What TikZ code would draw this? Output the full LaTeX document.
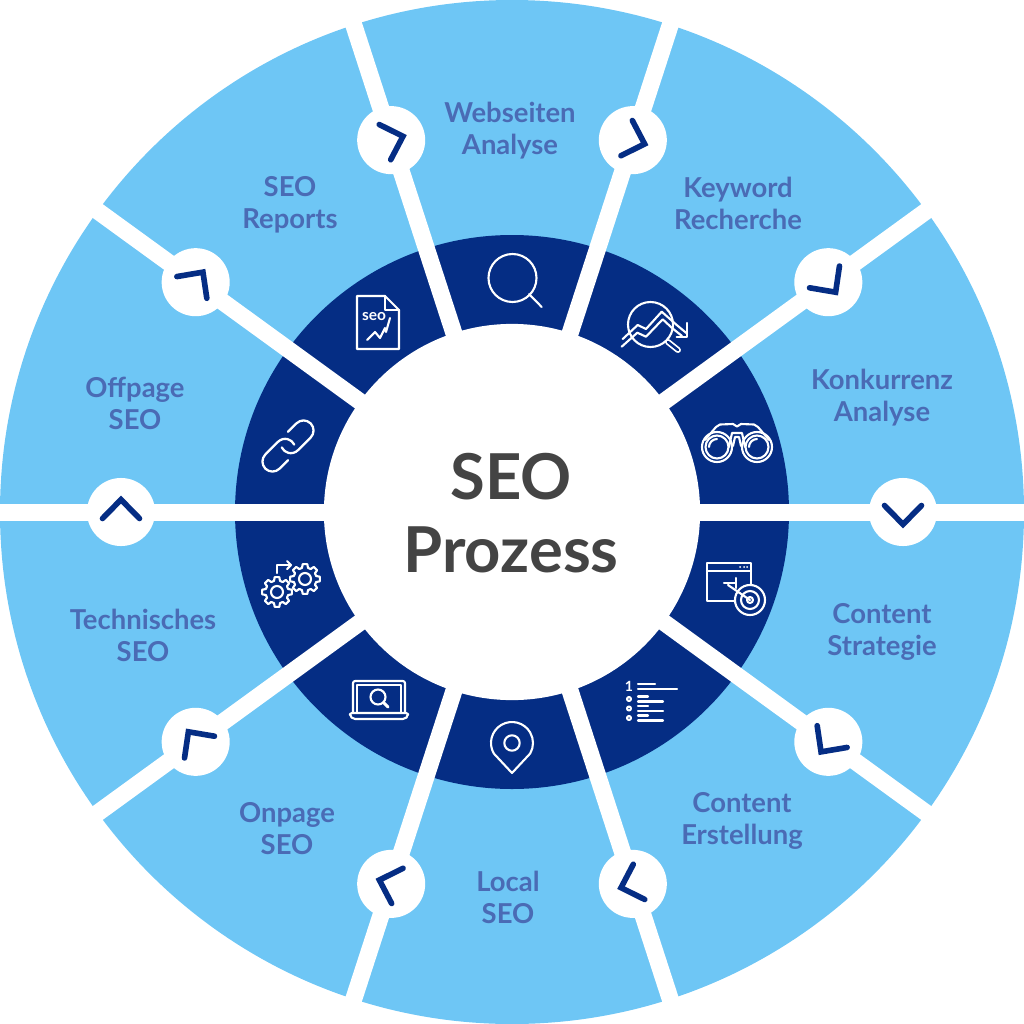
\documentclass[tikz,border=0pt]{standalone}
\usepackage{fontspec}
\setmainfont{Lato}
\usetikzlibrary{calc}
\definecolor{seolight}{HTML}{6EC6F5}
\definecolor{seodark}{HTML}{052D84}
\definecolor{seotext}{HTML}{4A6BB5}
\definecolor{seohub}{HTML}{444444}
\tikzset{
    steplabel/.style={align=center, text=seotext, inner sep=0pt, font=\bfseries\fontsize{7.8}{9.1}\selectfont},
    spoke/.style={draw=white, line width=0.17cm},
    stepdot/.style={circle, fill=white, minimum size=0.68cm, inner sep=0pt},
    chevron/.style={draw=seodark, line width=1.6pt, line cap=round, line join=miter},
    icon/.style={draw=white, line width=0.6pt, line cap=round, line join=round},
}
\newcommand{\seogear}[1]{
    \foreach \t in {0,45,...,315} {
        \draw[icon] ($(#1)+(\t-15:11.5)$) -- ($(#1)+(\t-9:15)$) -- ($(#1)+(\t+9:15)$) -- ($(#1)+(\t+15:11.5)$) -- ($(#1)+(\t+30:11.5)$);
    }
    \draw[icon] (#1) circle (6);
}
\begin{document}
\begin{tikzpicture}[x=0.01cm, y=-0.01cm]
    \useasboundingbox (0,0) rectangle (1024,1024);
    \coordinate (hub) at (512,512);

    % Rings
    \fill[seolight] (hub) circle (512);
    \fill[seodark] (hub) circle (277);

    % Spokes
    \foreach \a in {0,36,...,324} {
        \draw[spoke] (hub) -- ($(hub)+(\a:514)$);
    }
    \node[circle, fill=white, minimum size=3.76cm, inner sep=0pt] (centre) at (hub) {};

    % Chevrons
    \foreach \a in {0,36,...,324} {
        \node[stepdot] (dot\a) at ($(hub)+(\a:391)$) {};
        \draw[chevron] ($(dot\a)+(\a+90:-6.5)+(\a:18.5)$) -- ($(dot\a)+(\a+90:12.4)$) -- ($(dot\a)+(\a+90:-6.5)+(\a:-18.5)$);
    }

    % Labels
    \node[align=center, text=seohub, inner sep=0pt, font=\bfseries\fontsize{18}{20.8}\selectfont] (title) at (511,513) {SEO\\Prozess};
    \node[steplabel] (webseiten) at (510,131) {Webseiten\\Analyse};
    \node[steplabel] (keyword) at (738,203) {Keyword\\Recherche};
    \node[steplabel] (konkurrenz) at (882,398) {Konkurrenz\\Analyse};
    \node[steplabel] (strategie) at (882,632) {Content\\Strategie};
    \node[steplabel] (erstellung) at (742,821) {Content\\Erstellung};
    \node[steplabel] (local) at (508,897) {Local\\SEO};
    \node[steplabel] (onpage) at (287,829) {Onpage\\SEO};
    \node[steplabel] (technisches) at (143,635) {Technisches\\SEO};
    \node[steplabel] (offpage) at (135,403) {Offpage\\SEO};
    \node[steplabel] (reports) at (290,205) {SEO\\Reports};

    % Magnifier
    \draw[icon] (512.5,278) circle (24);
    \draw[icon] (529,294) -- (541.7,307);

    % Analysis
    \draw[icon] (650.5,324.5) circle (22.5);
    \draw[icon, line width=1.7pt] (668,342) -- (678,350);
    \draw[draw=seodark, line width=0.7pt, line cap=round] (668,342) -- (678,350);
    \draw[icon] (622.7,339) -- (637.7,325) -- (646,329) -- (661.7,311.7) -- (676.7,325) -- (686.7,333.3);
    \draw[icon] (621.7,346.7) -- (637.3,332.7) -- (646,336.7) -- (662.7,319.3) -- (671.7,327.7) -- (682,336);
    \draw[icon] (686.7,323) -- (686.7,336.7) -- (676.7,336.7);

    % Binoculars
    \foreach \c in {717,757} {
        \draw[icon] (\c,447) circle (15);
        \draw[icon] (\c,447) circle (11.5);
        \draw[icon] (\c-8,447) arc[start angle=180, end angle=270, radius=8];
    }
    \draw[icon] (705,440) -- (716,427) -- (720,424.5) -- (733,424) -- (737,426.5) -- (741,424) -- (754,424.5) -- (758,427) -- (769,440);
    \draw[icon] (729,447) -- (732,433) -- (742,433) -- (745,447);
    \draw[icon] (733,446) -- (735,437) -- (739,437) -- (741,446);

    % Target
    \draw[icon] (751,585) -- (751,563) -- (707,563) -- (707,601) -- (735,601);
    \draw[icon] (707,571) -- (751,571);
    \foreach \c in {740,744,747} {
        \fill[white] (\c,567) circle (1);
    }
    \draw[icon] (750,600) circle (15);
    \draw[icon] (750,600) circle (9);
    \draw[icon] (750,600) circle (3);
    \draw[icon] (750,600) -- (728,585);
    \draw[icon] (724,583) -- (735,583);
    \draw[icon] (736,578) -- (736,588);

    % List
    \node[text=white, inner sep=0pt, font=\bfseries\fontsize{4}{4}\selectfont] (listone) at (629,686) {1};
    \draw[icon] (638,684) -- (655,684);
    \draw[icon] (638,689) -- (677,689);
    \foreach \y in {699,708.5,718} {
        \draw[icon] (629,\y) circle (2);
        \draw[icon] (638,\y-2.5) -- (648,\y-2.5);
        \draw[icon] (638,\y+2.5) -- (663,\y+2.5);
    }

    % Pin
    \draw[icon] (512,773) -- (493.8,753.5) arc[start angle=150, end angle=390, radius=21] -- cycle;
    \draw[icon] (512,743) circle (7.7);

    % Laptop
    \draw[icon, rounded corners=0.6pt] (353,713) -- (353,681) -- (405,681) -- (405,713);
    \draw[icon] (357,713) -- (357,685) -- (401,685) -- (401,713);
    \draw[icon, rounded corners=0.6pt] (350,713) -- (408,713) -- (408,716) -- (405,719) -- (353,719) -- (350,716) -- cycle;
    \draw[icon] (378,697) circle (7.5);
    \draw[icon, line width=0.9pt] (383.5,702.5) -- (388,707);

    % Gears
    \coordinate (gearleft) at (277,592);
    \coordinate (gearright) at (305,579);
    \seogear{gearleft}
    \seogear{gearright}
    \draw[icon] (277,573) -- (277,565) -- (291,565);
    \draw[icon] (287,561) -- (291,565) -- (287,569);

    % Chain
    \begin{scope}[shift={(288,446)}, rotate=45]
        \draw[icon, line width=0.65pt] (10,-10) -- (22,-10) arc[start angle=-90, end angle=90, radius=10] -- (4,10) arc[start angle=90, end angle=200, radius=10];
    \end{scope}
    \begin{scope}[shift={(288,446)}, rotate=225]
        \draw[icon, line width=0.65pt] (10,-10) -- (22,-10) arc[start angle=-90, end angle=90, radius=10] -- (4,10) arc[start angle=90, end angle=200, radius=10];
    \end{scope}

    % Report
    \draw[icon] (385,296) -- (357,296) -- (357,349) -- (399,349) -- (399,310) -- cycle;
    \draw[icon] (385,296) -- (385,310) -- (399,310);
    \node[text=white, inner sep=0pt, font=\bfseries\fontsize{4.4}{5}\selectfont] (seoword) at (374,317) {seo};
    \draw[icon] (367,340) -- (375,332) -- (380,338) -- (385,328) -- (386,332) -- (390,318);
\end{tikzpicture}
\end{document}
